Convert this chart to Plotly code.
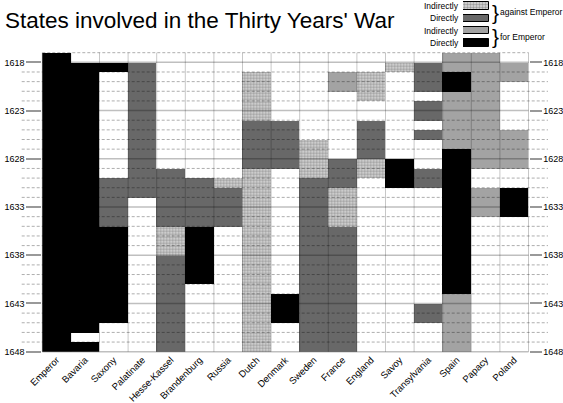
import plotly.graph_objects as go

# columns of the chart
states = ["Emperor", "Bavaria", "Saxony", "Palatinate", "Hesse-Kassel",
          "Brandenburg", "Russia", "Dutch", "Denmark", "Sweden", "France",
          "England", "Savoy", "Transylvania", "Spain", "Papacy", "Poland"]

# (state, from year, to year) for each kind of involvement
direct_for = [
    ("Emperor", 1617, 1648),
    ("Bavaria", 1618, 1646), ("Bavaria", 1647, 1648),
    ("Saxony", 1618, 1619), ("Saxony", 1635, 1645),
    ("Brandenburg", 1635, 1641),
    ("Denmark", 1642, 1645),
    ("Savoy", 1628, 1631),
    ("Spain", 1619, 1621), ("Spain", 1627, 1642),
    ("Poland", 1631, 1634),
]
indirect_for = [
    ("France", 1619, 1621),
    ("Spain", 1617, 1619), ("Spain", 1621, 1627), ("Spain", 1642, 1648),
    ("Papacy", 1617, 1629), ("Papacy", 1631, 1634),
    ("Poland", 1618, 1620), ("Poland", 1625, 1629),
]
direct_against = [
    ("Saxony", 1630, 1635),
    ("Palatinate", 1618, 1632),
    ("Hesse-Kassel", 1629, 1635), ("Hesse-Kassel", 1638, 1648),
    ("Brandenburg", 1630, 1635),
    ("Russia", 1631, 1635),
    ("Dutch", 1624, 1629),
    ("Denmark", 1624, 1629),
    ("Sweden", 1630, 1648),
    ("France", 1628, 1631), ("France", 1635, 1648),
    ("England", 1624, 1628),
    ("Transylvania", 1618, 1621), ("Transylvania", 1622, 1624),
    ("Transylvania", 1625, 1626), ("Transylvania", 1629, 1631),
    ("Transylvania", 1643, 1645),
]
indirect_against = [
    ("Hesse-Kassel", 1635, 1638),
    ("Russia", 1630, 1631),
    ("Dutch", 1619, 1624), ("Dutch", 1629, 1648),
    ("Sweden", 1626, 1630),
    ("France", 1631, 1635),
    ("England", 1619, 1622), ("England", 1628, 1630),
    ("Savoy", 1618, 1619),
]

year_ticks = [1618, 1623, 1628, 1633, 1638, 1643, 1648]
first_year, last_year = 1617, 1648

legend_rows = ["Indirectly", "Directly", "Indirectly", "Directly"]
legend_groups = ["against Emperor", "for Emperor"]

W, H = 563, 403
# plot box in pixels
left, right, top, bottom = 42.3, 528.5, 52.7, 351.7

FONT = "Liberation Sans, Arial, sans-serif"
CAT_FONT = dict(family=FONT, size=9.5, color="#000")
YEAR_FONT = dict(family=FONT, size=9, color="#000")
SMALL_FONT = dict(family=FONT, size=8.5, color="#000")


def fx(p):
    return p / W


def fy(p):
    return 1 - p / H


def year_y(yr):
    # paper y of a year on the reversed year axis
    return fy(top + (yr - first_year) / (last_year - first_year) * (bottom - top))


styles = {
    "df": dict(color="#000000"),
    "if": dict(color="#a3a3a3"),
    "da": dict(color="#686868"),
    "ia": dict(color="#d9d9d9",
               pattern=dict(shape=".", fillmode="replace", bgcolor="#dcdcdc",
                            fgcolor="#9c9c9c", size=3, solidity=0.5)),
}

fig = go.Figure()

for segs, key in [(direct_for, "df"), (indirect_for, "if"),
                  (direct_against, "da"), (indirect_against, "ia")]:
    fig.add_trace(go.Bar(
        x=[s[0] for s in segs],
        y=[s[2] - s[1] for s in segs],
        base=[s[1] for s in segs],
        width=1,
        marker=dict(line=dict(width=0), **styles[key]),
        showlegend=False,
    ))

# the little legend boxes on their own axes
for i, key in enumerate(["ia", "da", "if", "df"]):
    fig.add_trace(go.Bar(
        x=[1], y=[i], base=0, orientation="h", width=0.6,
        marker=dict(line=dict(width=1, color="#000"), **styles[key]),
        xaxis="x3", yaxis="y3", showlegend=False,
    ))

shapes = []
# dashed line for every year
for yr in range(first_year, last_year):
    if yr in year_ticks:
        continue
    x0, x1 = (left, right) if yr == first_year else (left - 20.6, right + 19.5)
    shapes.append(dict(type="line", xref="paper", yref="paper",
                       x0=fx(x0), x1=fx(x1), y0=year_y(yr), y1=year_y(yr),
                       line=dict(color="rgba(0,0,0,0.32)", width=1, dash="3px,2px"),
                       layer="above"))
# solid lines on the labelled years
for yr in year_ticks:
    shapes.append(dict(type="line", xref="paper", yref="paper",
                       x0=fx(left), x1=fx(right), y0=year_y(yr), y1=year_y(yr),
                       line=dict(color="rgba(0,0,0,0.25)", width=1.5),
                       layer="above"))
# column borders
colw = (right - left) / len(states)
for k in range(len(states) + 1):
    shapes.append(dict(type="line", xref="paper", yref="paper",
                       x0=fx(left + k * colw), x1=fx(left + k * colw),
                       y0=fy(top), y1=fy(bottom),
                       line=dict(color="rgba(0,0,0,0.22)", width=1),
                       layer="above"))

annotations = [dict(
    text="States involved in the Thirty Years' War",
    xref="paper", yref="paper", x=fx(3), y=fy(6), xanchor="left", yanchor="top",
    showarrow=False,
    font=dict(family="Liberation Sans Narrow, Arial Narrow, Liberation Sans, sans-serif",
              size=22.5, color="#000"),
)]
for i, lab in enumerate(legend_rows):
    annotations.append(dict(text=lab, xref="x3 domain", yref="y3", x=-0.06, y=i,
                            xanchor="right", yanchor="middle", showarrow=False,
                            font=SMALL_FONT))
for g, lab in enumerate(legend_groups):
    annotations.append(dict(text="}", xref="x3 domain", yref="y3", x=1.04, y=2 * g + 0.5,
                            xanchor="left", yanchor="middle", showarrow=False,
                            font=dict(family=FONT, size=21, color="#000")))
    annotations.append(dict(text=lab, xref="paper", yref="y3", x=fx(498), y=2 * g + 0.5,
                            xanchor="left", yanchor="middle", showarrow=False,
                            font=SMALL_FONT))

yaxis_common = dict(
    range=[last_year, first_year], tickvals=year_ticks, ticks="outside",
    tickcolor="#999", tickwidth=1.5, showgrid=False, zeroline=False,
    showline=False, tickfont=YEAR_FONT, automargin=False,
)

fig.update_layout(
    width=W, height=H,
    margin=dict(l=0, r=0, t=0, b=0),
    paper_bgcolor="white", plot_bgcolor="white",
    barmode="overlay", bargap=0,
    xaxis=dict(domain=[fx(left), fx(right)], type="category", categoryarray=states,
               categoryorder="array", range=[-0.5, len(states) - 0.5],
               tickangle=-45, tickfont=CAT_FONT, showgrid=False, zeroline=False,
               showline=False, ticks="", automargin=False, anchor="y"),
    yaxis=dict(domain=[fy(bottom), fy(top)], anchor="x", side="left", ticklen=15,
               **yaxis_common),
    yaxis2=dict(overlaying="y", anchor="x", side="right", ticklen=12, **yaxis_common),
    xaxis3=dict(domain=[fx(463), fx(489)], range=[0, 1], visible=False, anchor="y3"),
    yaxis3=dict(domain=[fy(49), fy(0)], range=[3.5, -0.5], visible=False, anchor="x3"),
    shapes=shapes,
    annotations=annotations,
)

# right axis needs a trace to show up
fig.add_trace(go.Scatter(x=[states[0]], y=[first_year], yaxis="y2", mode="markers",
                         marker=dict(opacity=0), showlegend=False, hoverinfo="skip"))

# page body has a default margin, drop it so the figure sits at the corner
fig.write_html("out.html", config={"displayModeBar": False},
               post_script="document.body.style.margin='0';")
